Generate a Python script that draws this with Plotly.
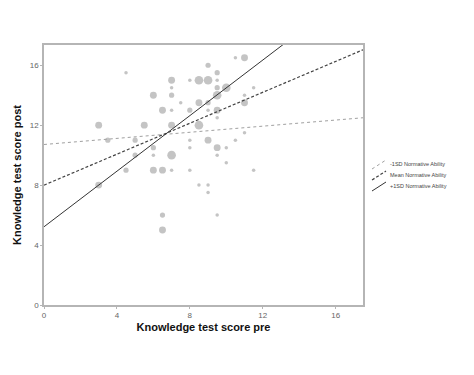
import plotly.graph_objects as go

# Data points: pre score, post score, count (size class)
pre = [4.5, 7, 8, 8.5, 9, 9.5, 7, 9.5, 10, 11.5, 6, 7, 9.5, 11, 7.5, 8.5, 9, 11,
       6.5, 7, 8, 9, 9.5, 9.5, 3, 5.5, 7, 8.5, 11, 3.5, 5, 8, 9, 10.5, 6, 8, 9.5, 10,
       5, 6, 7, 9.5, 10, 4.5, 6, 6.5, 7, 8, 11.5, 3, 8.5, 9, 9, 6.5, 9.5, 6.5,
       9, 10.5, 11, 9.5]
post = [15.5, 15, 15, 15, 15, 15, 14.5, 14.5, 14.5, 14.5, 14, 14, 14, 14, 13.5, 13.5, 13.5, 13.5,
        13, 13, 13, 13, 13, 12.5, 12, 12, 12, 12, 11.5, 11, 11, 11, 11, 11, 10.5, 10.5, 10.5, 10.5,
        10, 10, 10, 10, 9.5, 9, 9, 9, 9, 9, 9, 8, 8, 8, 7.5, 6, 6, 5,
        16, 16.5, 16.5, 15.5]
count = [1, 3, 1, 4, 4, 1, 1, 2, 4, 1, 3, 2, 4, 1, 1, 3, 2, 3,
         3, 1, 2, 1, 3, 1, 3, 3, 3, 4, 1, 2, 2, 1, 3, 1, 2, 1, 3, 1,
         2, 1, 4, 1, 1, 2, 3, 3, 1, 1, 1, 3, 1, 1, 1, 2, 1, 3,
         2, 1, 3, 2]

# Regression lines
line_names = ["-1SD Normative Ability", "Mean Normative Ability", "+1SD Normative Ability"]
intercepts = [10.71, 8.0, 5.22]
slopes = [0.102, 0.516, 0.927]
line_dash = ["dot", "3px,2px", "solid"]
line_color = ["#a0a0a0", "#444444", "#333333"]
line_width = [1, 1.2, 1]

x_range = [0, 17.5]
y_range = [0, 17.35]
ticks = [0, 4, 8, 12, 16]

BODY = 8  # default page margin around the plot div
W, H = 466, 367
ML, MT, PW, PH = 36, 37, 319, 260
MR, MB = W - ML - PW, H - MT - PH

fig = go.Figure()
fig.add_trace(go.Scatter(
    x=pre, y=post, mode="markers", showlegend=False,
    marker=dict(size=[1.8 + 1.7 * c for c in count], color="#ababab", line=dict(width=0)),
))
for name, b0, b1, d, c, w in zip(line_names, intercepts, slopes, line_dash, line_color, line_width):
    xs = [x_range[0], x_range[1]]
    fig.add_trace(go.Scatter(
        x=xs, y=[b0 + b1 * v for v in xs], mode="lines", name=name, showlegend=False,
        line=dict(color=c, dash=d, width=w),
    ))

# custom legend (diagonal samples like the reference), positions in screen px
def px_x(p):
    return (p - BODY - ML) / PW
def px_y(p):
    return (BODY + MT + PH - p) / PH

shapes = []
annotations = []
legend_y = [164, 175, 186]
for name, yy, d, c, w in zip(line_names, legend_y, line_dash, line_color, line_width):
    shapes.append(dict(type="line", xref="paper", yref="paper",
                       x0=px_x(372), y0=px_y(yy + 5), x1=px_x(386), y1=px_y(yy - 4),
                       line=dict(color=c, dash=d, width=w)))
    annotations.append(dict(xref="paper", yref="paper", x=px_x(388), y=px_y(yy),
                            xanchor="left", yanchor="middle", showarrow=False,
                            text=name, font=dict(size=5.5, color="#444")))

fig.update_layout(
    width=W, height=H,
    margin=dict(l=ML, r=MR, t=MT, b=MB),
    plot_bgcolor="white", paper_bgcolor="white",
    font=dict(family="Liberation Sans, Arial, sans-serif", color="#555"),
    showlegend=False, shapes=shapes, annotations=annotations,
)
axis_common = dict(
    showgrid=False, zeroline=False, showline=True, mirror=True, automargin=False,
    linecolor="#b5b5b5", linewidth=1.5, ticks="outside", ticklen=2,
    tickcolor="#b5b5b5", tickfont=dict(size=8, color="#666"),
    tickvals=ticks,
)
fig.update_xaxes(range=x_range, title=dict(text="<b>Knowledge test score pre</b>",
                 font=dict(size=11, color="#111"), standoff=4), **axis_common)
fig.update_yaxes(range=y_range, title=dict(text="<b>Knowledge test score post</b>",
                 font=dict(size=11, color="#111"), standoff=6), **axis_common)

fig.write_html("out.html")
